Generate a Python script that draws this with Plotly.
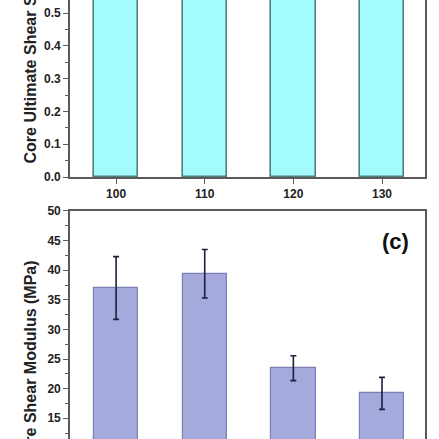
import plotly.graph_objects as go

temps = [100, 110, 120, 130]
tick_labels = ["100", "110", "120", "130"]
# top panel (core ultimate shear strength, MPa) - bars exceed visible window
strength = [0.62, 0.61, 0.63, 0.62]
# bottom panel (core shear modulus, MPa)
modulus = [37.0, 39.4, 23.45, 19.2]
modulus_err = [5.3, 4.1, 2.1, 2.7]

axis_col = "#5a5a5a"
tick_font = dict(family="Arial", size=12, color="#222222", weight="bold")
title_font = dict(family="Arial", size=16, color="#222222", weight="bold")

fig = go.Figure()
fig.add_trace(go.Bar(x=temps, y=strength, width=5, xaxis="x", yaxis="y",
                     marker=dict(color="#a4fbfb", line=dict(color="#4f8080", width=1.6)),
                     showlegend=False))
fig.add_trace(go.Bar(x=temps, y=modulus, width=5, xaxis="x2", yaxis="y2",
                     marker=dict(color="#a6a9dc", line=dict(color="#7d80b4", width=1.2)),
                     error_y=dict(type="data", array=modulus_err, color="#1c2040",
                                  thickness=1.6, width=3),
                     showlegend=False))

common_y = dict(showline=True, linecolor=axis_col, linewidth=1.6, mirror=True,
                ticks="outside", ticklen=5, tickwidth=1.2, tickcolor=axis_col,
                tickfont=tick_font, showgrid=False, zeroline=False, automargin=False)

fig.update_layout(
    width=439, height=439,
    margin=dict(l=70, r=14, t=0, b=0, pad=0, autoexpand=False),
    plot_bgcolor="white", paper_bgcolor="white",
    bargap=0,
    xaxis=dict(domain=[0, 1], range=[94.8, 134.85], tickvals=temps, ticktext=tick_labels,
               showline=True, linecolor=axis_col, linewidth=1.6, ticks="outside",
               ticklen=5, tickwidth=1.2, tickcolor=axis_col, tickfont=tick_font,
               showgrid=False, zeroline=False, anchor="y", automargin=False),
    yaxis=dict(domain=[0.5968, 1], range=[0, 0.54], tickvals=[0, 0.1, 0.2, 0.3, 0.4, 0.5],
               ticktext=["0.0", "0.1", "0.2", "0.3", "0.4", "0.5"],
               minor=dict(dtick=0.05, ticks="outside", ticklen=3, tickcolor=axis_col),
               anchor="x", **common_y),
    xaxis2=dict(domain=[0, 1], range=[94.8, 134.85], side="top", showline=True,
                linecolor=axis_col, linewidth=1.6, ticks="", showticklabels=False,
                showgrid=False, zeroline=False, anchor="y2", automargin=False),
    yaxis2=dict(domain=[0, 0.5194], range=[11.5, 50], dtick=5,
                minor=dict(dtick=2.5, ticks="outside", ticklen=3, tickcolor=axis_col),
                anchor="x2", **common_y),
    annotations=[
        dict(text="Core Ultimate Shear Strength (MPa)", textangle=-90, xref="paper", yref="paper",
             x=(30 - 70) / 355, xanchor="center", y=(439 - 166) / 439, yanchor="bottom",
             showarrow=False, font=title_font),
        dict(text="Core Shear Modulus (MPa)", textangle=-90, xref="paper", yref="paper",
             x=(30 - 70) / 355, xanchor="center", y=(439 - 258) / 439, yanchor="top",
             showarrow=False, font=title_font),
        dict(text="(c)", xref="paper", yref="paper", x=(395 - 70) / 355, y=(439 - 241) / 439,
             xanchor="center", yanchor="middle", showarrow=False,
             font=dict(family="Liberation Sans", size=22, color="#111111", weight="bold")),
    ],
)

fig.write_html("out.html")
